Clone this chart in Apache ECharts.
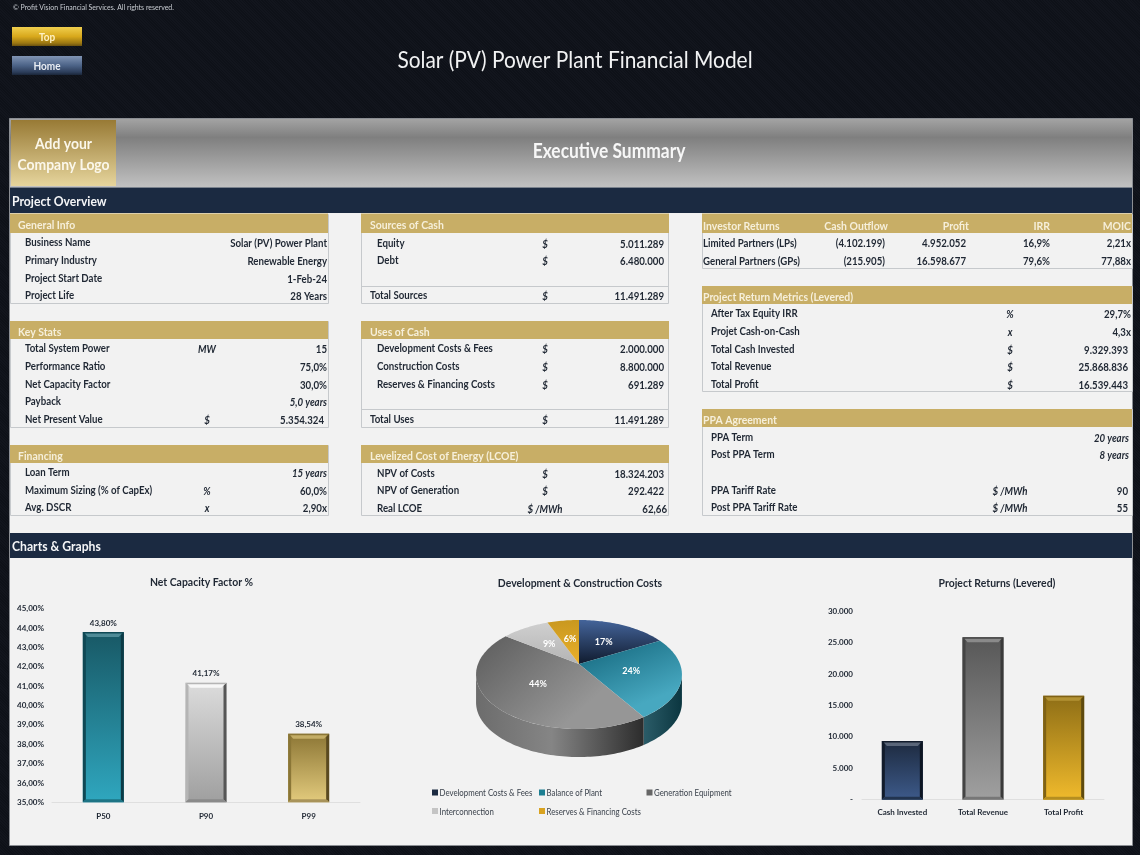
<!DOCTYPE html>
<html>
<head>
<meta charset="utf-8">
<title>Solar (PV) Power Plant Financial Model</title>
<script src="https://cdn.jsdelivr.net/npm/echarts@6/dist/echarts.min.js"></script>
<style>
html, body { margin: 0; padding: 0; }
body {
    width: 1140px; height: 855px; overflow: hidden;
    background-color: #10131a;
    background-image: repeating-linear-gradient(45deg, #12151d 0, #12151d 1px, #0e1118 1px, #0e1118 2px);
}
#main { width: 1140px; height: 855px; }
</style>
</head>
<body>
<div id="main"></div>
<script>
// Table contents: label, unit, value
var generalInfo = [
    ['Business Name', '', 'Solar (PV) Power Plant'],
    ['Primary Industry', '', 'Renewable Energy'],
    ['Project Start Date', '', '1-Feb-24'],
    ['Project Life', '', '28 Years']
];
var keyStats = [
    ['Total System Power', 'MW', '15'],
    ['Performance Ratio', '', '75,0%'],
    ['Net Capacity Factor', '', '30,0%'],
    ['Payback', '', '5,0 years'],
    ['Net Present Value', '$', '5.354.324']
];
var financing = [
    ['Loan Term', '', '15 years'],
    ['Maximum Sizing (% of CapEx)', '%', '60,0%'],
    ['Avg. DSCR', 'x', '2,90x']
];
var sourcesOfCash = [['Equity', '$', '5.011.289'], ['Debt', '$', '6.480.000']];
var totalSources = ['Total Sources', '$', '11.491.289'];
var usesOfCash = [
    ['Development Costs & Fees', '$', '2.000.000'],
    ['Construction Costs', '$', '8.800.000'],
    ['Reserves & Financing Costs', '$', '691.289']
];
var totalUses = ['Total Uses', '$', '11.491.289'];
var lcoe = [
    ['NPV of Costs', '$', '18.324.203'],
    ['NPV of Generation', '$', '292.422'],
    ['Real LCOE', '$ /MWh', '62,66']
];
var investorHead = ['Investor Returns', 'Cash Outflow', 'Profit', 'IRR', 'MOIC'];
var investorRows = [
    ['Limited Partners (LPs)', '(4.102.199)', '4.952.052', '16,9%', '2,21x'],
    ['General Partners (GPs)', '(215.905)', '16.598.677', '79,6%', '77,88x']
];
var returnMetrics = [
    ['After Tax Equity IRR', '%', '29,7%'],
    ['Projet Cash-on-Cash', 'x', '4,3x'],
    ['Total Cash Invested', '$', '9.329.393'],
    ['Total Revenue', '$', '25.868.836'],
    ['Total Profit', '$', '16.539.443']
];
var ppaTerms = [['PPA Term', '', '20 years'], ['Post PPA Term', '', '8 years']];
var ppaRates = [['PPA Tariff Rate', '$ /MWh', '90'], ['Post PPA Tariff Rate', '$ /MWh', '55']];

// Charts
var capacityCats = ['P50', 'P90', 'P99'];
var capacityVals = [43.80, 41.17, 38.54];
var returnCats = ['Cash Invested', 'Total Revenue', 'Total Profit'];
var returnVals = [9329, 25869, 16539];
var costNames = ['Development Costs & Fees', 'Balance of Plant', 'Generation Equipment', 'Interconnection', 'Reserves & Financing Costs'];
var costVals = [17, 24, 44, 9, 6];

var FONT = 'Lato, "Open Sans", sans-serif';
var DARK = '#1f2733';
var GOLD = '#c8ae66';
var NAVY = '#1b2a41';
var ROW_SIZE = 11;
var LinearGradient = echarts.graphic.LinearGradient;

function vgrad(a, b) {
    return new LinearGradient(0, 0, 0, 1, [{ offset: 0, color: a }, { offset: 1, color: b }]);
}

var items = [];

function box(x, y, w, h, fill, stroke) {
    items.push({
        type: 'rect', silent: true,
        shape: { x: x, y: y, width: w, height: h },
        style: { fill: fill, stroke: stroke || null, lineWidth: stroke ? 1 : 0 }
    });
}

// Lato runs wider than the sheet's font, so text is narrowed a little
function txt(x, y, text, align, size, weight, color, italic) {
    var isRow = size === ROW_SIZE;
    items.push({
        type: 'text', silent: true, x: x, y: y + (isRow ? 0.2 : 0.7), scaleX: isRow ? 0.88 : 0.87,
        style: {
            text: text, textAlign: align, textVerticalAlign: 'middle', fill: color,
            font: (italic ? 'italic ' : '') + weight + ' ' + size + 'px ' + FONT
        }
    });
}

function band(x, y, w, h, text, textX) {
    box(x, y, w, h, GOLD);
    txt(textX, y + h / 2 + 1.2, text, 'left', 12, 700, '#f6efda');
}

// one titled block of label / unit / value rows
function rows(list, ys, labelX, unitX, valueX) {
    list.forEach(function(r, i) {
        var italicVal = /year/.test(r[2]);
        txt(labelX, ys[i], r[0], 'left', ROW_SIZE, 700, DARK);
        if (r[1]) txt(unitX, ys[i] + 1, r[1], 'center', ROW_SIZE, 700, DARK, true);
        txt(/[\dx%]$/.test(r[2]) && /\./.test(r[2]) ? valueX - 3 : valueX, ys[i] + 1, r[2], 'right', ROW_SIZE, 700, DARK, italicVal);
    });
}

function outline(x, y, w, h) {
    box(x + 0.5, y + 0.5, w, h, null, '#c6c9cc');
}

// page frame
txt(13, 7, '\u00a9 Profit Vision Financial Services. All rights reserved.', 'left', 8, 400, '#c9cdd3');
box(12, 27, 70, 19, new LinearGradient(0, 0, 0, 1, [{ offset: 0, color: '#f0cf4e' }, { offset: 0.5, color: '#d8a81c' }, { offset: 0.85, color: '#9b7712' }, { offset: 1, color: '#6a5110' }]));
txt(47, 36.5, 'Top', 'center', 11.5, 700, '#fff2c4');
box(12, 56, 70, 19, new LinearGradient(0, 0, 0, 1, [{ offset: 0, color: '#8195b5' }, { offset: 0.5, color: '#4c6387' }, { offset: 0.85, color: '#2c3d5a' }, { offset: 1, color: '#1a2639' }]));
txt(47, 65.5, 'Home', 'center', 11.5, 700, '#e9edf3');
txt(575, 60, 'Solar (PV) Power Plant Financial Model', 'center', 24, 400, '#f1f2f3');

box(9.5, 118.5, 1123, 727, '#f2f2f2', '#8b8e93');

// header band
box(10, 119, 1122, 68.5, new LinearGradient(0, 0, 0, 1, [{ offset: 0, color: '#a3a3a3' }, { offset: 0.27, color: '#7f7f7f' }, { offset: 1, color: '#c2c2c2' }]));
box(11, 120, 105, 66, vgrad('#987a35', '#e6d59d'));
txt(63.5, 143, 'Add your', 'center', 16, 700, '#fbf7ea');
txt(63.5, 164.5, 'Company Logo', 'center', 16, 700, '#fbf7ea');
txt(609, 150.5, 'Executive Summary', 'center', 20, 700, '#f7f7f7');

box(10, 187.5, 1122, 25.5, NAVY);
txt(12, 200.5, 'Project Overview', 'left', 14, 700, '#f4f5f7');
box(10, 533, 1122, 25, NAVY);
txt(12, 545.5, 'Charts & Graphs', 'left', 14, 700, '#f4f5f7');

// left column
outline(10, 214, 318, 89);
band(10, 213.5, 318, 19.5, 'General Info', 18);
rows(generalInfo, [242.5, 260, 278, 295.5], 25, 207, 327);
outline(10, 321, 318, 106);
band(10, 321, 318, 18, 'Key Stats', 18);
rows(keyStats, [348.5, 366.5, 384, 401.5, 419.5], 25, 207, 327);
outline(10, 445, 318, 70);
band(10, 445, 318, 18, 'Financing', 18);
rows(financing, [472, 490, 507.5], 25, 207, 327);

// middle column
outline(361, 214, 307, 89);
band(361, 213.5, 308, 19.5, 'Sources of Cash', 370);
rows(sourcesOfCash, [243, 260.5], 377, 545, 667);
box(361, 286, 308, 1, '#c6c9cc');
rows([totalSources], [295.5], 370, 545, 667);
outline(361, 321, 307, 106);
band(361, 321, 308, 18, 'Uses of Cash', 370);
rows(usesOfCash, [348.5, 366, 384], 377, 545, 667);
box(361, 409, 308, 1, '#c6c9cc');
rows([totalUses], [419], 370, 545, 667);
outline(361, 445, 307, 70);
band(361, 445, 308, 18, 'Levelized Cost of Energy (LCOE)', 370);
rows(lcoe, [473, 490.5, 508], 377, 545, 667);

// right column
outline(702, 214, 430, 54);
box(702, 213.5, 430, 19.5, GOLD);
var investorX = [703, 888, 969, 1050, 1131];
investorHead.forEach(function(h, i) {
    txt(investorX[i], 225, h, i ? 'right' : 'left', 12, 700, '#f6efda');
});
var investorValX = [703, 885, 966, 1050, 1131];
investorRows.forEach(function(r, j) {
    r.forEach(function(v, i) {
        txt(investorValX[i], 243.5 + j * 17.5, v, i ? 'right' : 'left', ROW_SIZE, 700, DARK);
    });
});
outline(702, 286, 430, 105);
band(702, 286, 430, 18, 'Project Return Metrics (Levered)', 703);
rows(returnMetrics, [313.5, 331, 349, 366, 384], 711, 1010, 1131);
outline(702, 409, 430, 106);
band(702, 409, 430, 18, 'PPA Agreement', 703);
rows(ppaTerms, [437, 454.5], 711, 1010, 1129);
rows(ppaRates, [490, 507.5], 711, 1010, 1128);

// chart titles and pie legend
txt(201.5, 581.5, 'Net Capacity Factor %', 'center', 12, 700, DARK);
txt(580, 582.5, 'Development & Construction Costs', 'center', 12, 700, DARK);
txt(997, 582.5, 'Project Returns (Levered)', 'center', 12, 700, DARK);

var legendSwatch = ['#1b2a41', '#1e7f92', '#666666', '#c4c4c4', '#d9a321'];
var legendPos = [[432, 793], [539, 793], [646.5, 793], [432, 811.5], [539, 811.5]];
costNames.forEach(function(n, i) {
    box(legendPos[i][0], legendPos[i][1] - 3.5, 6, 6, legendSwatch[i]);
    txt(legendPos[i][0] + 7.5, legendPos[i][1] - 0.5, n, 'left', 9, 400, '#3c434d');
});

// tilted pie: slices are projected from the unit circle
var sliceTop = [[0, 1, '#44649a', '#101b2e'], [0.3, 1, '#12647a', '#47a8c0'], [0.5, 1, '#5c5c5c', '#969696'], [0, 1, '#cfcfcf', '#b4b4b4'], [0, 1, '#c9981f', '#eab02a']];
var PIE_CX = 579, PIE_CY = 664, PIE_RX = 101, PIE_H = 52.5, PIE_K = 0.193, PIE_DEPTH = 28;
var pieSum = costVals.reduce(function(a, b) { return a + b; }, 0);

function project(theta, rho) {
    var u = rho * Math.sin(theta), v = rho * Math.cos(theta), d = 1 + PIE_K * v;
    return [PIE_CX + PIE_RX * u / d, PIE_CY - PIE_H * v / d];
}

function sliceAngles(i) {
    var before = costVals.slice(0, i).reduce(function(a, b) { return a + b; }, 0);
    return [before / pieSum * 2 * Math.PI, (before + costVals[i]) / pieSum * 2 * Math.PI];
}

function arcPoints(a, b, rho) {
    var pts = [], n = Math.max(2, Math.ceil((b - a) * 40));
    for (var k = 0; k <= n; k++) pts.push(project(a + (b - a) * k / n, rho));
    return pts;
}

function renderPieTop(params) {
    var i = params.dataIndex, ang = sliceAngles(i), mid = (ang[0] + ang[1]) / 2;
    var lab = project(mid, 0.52);
    var c = sliceTop[i];
    return {
        type: 'group',
        children: [{
            type: 'polygon',
            shape: { points: [project(0, 0)].concat(arcPoints(ang[0], ang[1], 1)) },
            style: { fill: new LinearGradient(0, 0, c[0], c[1], [{ offset: 0, color: c[2] }, { offset: 1, color: c[3] }]) }
        }, {
            type: 'text', x: lab[0], y: lab[1], z2: 10,
            style: {
                text: costVals[i] + '%', textAlign: 'center', textVerticalAlign: 'middle',
                fill: '#ffffff', font: '700 9px ' + FONT
            }
        }]
    };
}

var WALL_FROM = Math.acos(-PIE_K), WALL_TO = 2 * Math.PI - WALL_FROM;

function renderPieWall(params) {
    var ang = sliceAngles(params.dataIndex);
    var a = Math.max(ang[0], WALL_FROM), b = Math.min(ang[1], WALL_TO);
    if (b <= a) return { type: 'group', children: [] };
    var upper = arcPoints(a, b, 1);
    var lower = upper.map(function(p) { return [p[0], p[1] + PIE_DEPTH]; }).reverse();
    var stops = params.dataIndex === 1 ?
        [{ offset: 0, color: '#0b3640' }, { offset: 1, color: '#2b5c68' }] :
        [{ offset: 0, color: '#2c2c2c' }, { offset: 0.55, color: '#858585' }, { offset: 1, color: '#6c6c6c' }];
    return {
        type: 'polygon',
        shape: { points: upper.concat(lower) },
        style: { fill: new LinearGradient(1, 0, 0, 0, stops) }
    };
}

// bevel drawn over a bar through the axis scales
function bevelRenderer(barWidth, axisMin, edges) {
    return function(params, api) {
        var top = api.coord([api.value(0), api.value(1)]);
        var base = api.coord([api.value(0), axisMin]);
        var x0 = top[0] - barWidth / 2, x1 = top[0] + barWidth / 2, y0 = top[1], y1 = base[1];
        var e = edges[params.dataIndex], b = 3;
        return {
            type: 'group',
            children: [
                { type: 'polygon', shape: { points: [[x0, y0], [x0 + b, y0 + b], [x0 + b, y1 - b], [x0, y1]] }, style: { fill: e[0] } },
                { type: 'polygon', shape: { points: [[x1, y0], [x1 - b, y0 + b], [x1 - b, y1 - b], [x1, y1]] }, style: { fill: e[1] } },
                { type: 'polygon', shape: { points: [[x0, y0], [x1, y0], [x1 - b, y0 + b], [x0 + b, y0 + b]] }, style: { fill: e[0] } },
                { type: 'polygon', shape: { points: [[x0 + 2, y0 + 1.5], [x1 - 2, y0 + 1.5], [x1 - 5, y0 + 5], [x0 + 5, y0 + 5]] }, style: { fill: e[2] } },
                { type: 'polygon', shape: { points: [[x0, y1], [x1, y1], [x1 - b, y1 - b], [x0 + b, y1 - b]] }, style: { fill: e[3] } }
            ]
        };
    };
}

var capacityFill = [['#185865', '#2fa7bf'], ['#dcdcdc', '#9f9f9f'], ['#8c7635', '#e3cb7d']];
var capacityEdges = [
    ['#0f4854', '#0c3a45', '#4f8b97', '#1d7485'],
    ['#b5b5b5', '#565656', '#f7f7f7', '#8a8a8a'],
    ['#8a7636', '#5a4a20', '#c3ad66', '#a8935a']
];
var returnFill = [['#1d2a3f', '#3d5a8a'], ['#575757', '#a0a0a0'], ['#8e6e16', '#f0ba2c']];
var returnEdges = [
    ['#111b2b', '#0d1522', '#5a6679', '#22344f'],
    ['#444444', '#3a3a3a', '#8a8a8a', '#777777'],
    ['#7f6215', '#5e4a0f', '#b39334', '#b58e20']
];

function fillData(vals, fills) {
    return vals.map(function(v, i) {
        return { value: v, itemStyle: { color: vgrad(fills[i][0], fills[i][1]) } };
    });
}

function pairs(vals) {
    return vals.map(function(v, i) { return [i, v]; });
}

function pctLabel(v) {
    return v.toFixed(2).replace('.', ',') + '%';
}

function thousands(v) {
    return v === 0 ? '-' : String(v).replace(/\B(?=(\d{3})+$)/g, '.');
}

var axisText = { color: DARK, fontFamily: FONT, fontWeight: 700, fontSize: 8 };

var option = {
    animation: false,
    graphic: { elements: items },
    grid: [
        { left: 52, top: 608.7, width: 308, height: 193.6 },
        { left: 862, top: 611.3, width: 242, height: 188.4 }
    ],
    xAxis: [
        {
            type: 'category', gridIndex: 0, data: capacityCats,
            axisLine: { lineStyle: { color: '#dfdfdf' } }, axisTick: { show: false },
            axisLabel: Object.assign({ margin: 10 }, axisText)
        },
        {
            type: 'category', gridIndex: 1, data: returnCats,
            axisLine: { lineStyle: { color: '#dfdfdf' } }, axisTick: { show: false },
            axisLabel: Object.assign({ margin: 9 }, axisText)
        }
    ],
    yAxis: [
        {
            type: 'value', gridIndex: 0, min: 35, max: 45, interval: 1,
            axisLine: { show: false }, axisTick: { show: false }, splitLine: { show: false },
            axisLabel: Object.assign({ margin: 8, formatter: pctLabel }, axisText)
        },
        {
            type: 'value', gridIndex: 1, min: 0, max: 30000, interval: 5000,
            axisLine: { show: false }, axisTick: { show: false }, splitLine: { show: false },
            axisLabel: Object.assign({ margin: 9, formatter: thousands }, axisText)
        }
    ],
    series: [
        {
            type: 'bar', xAxisIndex: 0, yAxisIndex: 0, barWidth: 41,
            data: fillData(capacityVals, capacityFill),
            label: {
                show: true, position: 'top', distance: 5, color: DARK, fontFamily: FONT, fontWeight: 700, fontSize: 8,
                formatter: function(p) { return pctLabel(p.value); }
            }
        },
        {
            type: 'custom', xAxisIndex: 0, yAxisIndex: 0, z: 3, silent: true,
            renderItem: bevelRenderer(41, 35, capacityEdges),
            encode: { x: 0, y: 1 }, data: pairs(capacityVals)
        },
        {
            type: 'bar', xAxisIndex: 1, yAxisIndex: 1, barWidth: 41,
            data: fillData(returnVals, returnFill)
        },
        {
            type: 'custom', xAxisIndex: 1, yAxisIndex: 1, z: 3, silent: true,
            renderItem: bevelRenderer(41, 0, returnEdges),
            encode: { x: 0, y: 1 }, data: pairs(returnVals)
        },
        { type: 'custom', coordinateSystem: 'none', z: 4, silent: true, renderItem: renderPieWall, data: costVals },
        { type: 'custom', coordinateSystem: 'none', z: 5, silent: true, renderItem: renderPieTop, data: costVals }
    ]
};

var myChart = echarts.init(document.getElementById('main'));
myChart.setOption(option);
</script>
</body>
</html>
